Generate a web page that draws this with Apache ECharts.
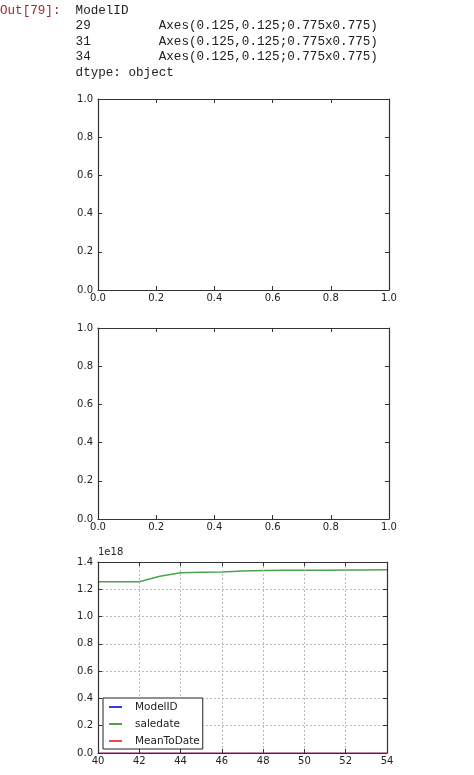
<!DOCTYPE html>
<html>

<head>
  <meta charset="utf-8">
  <title>ModelID axes</title>
  <script src="https://cdn.jsdelivr.net/npm/echarts@6/dist/echarts.min.js"></script>
  <style>
    body { margin: 0; background: #fff; }
    #out {
      position: absolute; left: 0; top: 4px; margin: 0;
      font-family: "Liberation Mono", "DejaVu Sans Mono", monospace;
      font-size: 12.6px; line-height: 15.4px; color: #222;
      white-space: pre; z-index: 2;
    }
    #out .prompt { color: #a52a2a; }
  </style>
</head>

<body>
  <pre id="out"><span class="prompt">Out[79]:</span>  ModelID
          29         Axes(0.125,0.125;0.775x0.775)
          31         Axes(0.125,0.125;0.775x0.775)
          34         Axes(0.125,0.125;0.775x0.775)
          dtype: object</pre>
  <div id="main" style="width: 474px;height:775px;"></div>
  <script type="text/javascript">
    var myChart = echarts.init(document.getElementById('main'));

    // last chart: x positions and the three series
    var xValues = [40, 41, 42, 43, 44, 45, 46, 47, 48, 49, 50, 51, 52, 53, 54];
    var modelID = [0, 0, 0, 0, 0, 0, 0, 0, 0, 0, 0, 0, 0, 0, 0];
    var saledate = [1.255e18, 1.255e18, 1.255e18, 1.295e18, 1.322e18, 1.324e18, 1.326e18, 1.334e18,
      1.338e18, 1.339e18, 1.340e18, 1.340e18, 1.341e18, 1.342e18, 1.344e18];
    var meanToDate = [0, 0, 0, 0, 0, 0, 0, 0, 0, 0, 0, 0, 0, 0, 0];
    var seriesNames = ['ModelID', 'saledate', 'MeanToDate'];
    var seriesColors = ['#3a3ae0', '#4aa44a', '#ee4a4a'];

    var grids = [
      { left: 98, top: 99, width: 291, height: 191 },
      { left: 98, top: 328, width: 291, height: 191 },
      { left: 98, top: 562, width: 289, height: 191 }
    ];

    var labelStyle = { fontFamily: 'DejaVu Sans', fontSize: 10, color: '#222' };
    var frameLine = { show: true, onZero: false, lineStyle: { color: '#333', width: 1.2 } };
    var tick = { show: true, inside: true, length: 4, lineStyle: { color: '#333' } };

    function oneDecimal(v) { return v.toFixed(1); }

    var xAxes = [], yAxes = [];
    grids.forEach(function (g, i) {
      var last = i === 2;
      var xr = last ? { min: 40, max: 54, interval: 2 } : { min: 0, max: 1, interval: 0.2 };
      var yr = last ? { min: 0, max: 1.4e18, interval: 0.2e18 } : { min: 0, max: 1, interval: 0.2 };
      var xLabelFmt = last ? function (v) { return String(v); } : oneDecimal;
      var yLabelFmt = last ? function (v) { return (v / 1e18).toFixed(1); } : oneDecimal;
      var grid = {
        type: 'value', gridIndex: i, min: xr.min, max: xr.max, interval: xr.interval,
        axisLine: frameLine, axisTick: tick, z: 5,
        splitLine: { show: last, lineStyle: { color: '#bbb', type: [2, 2] } }
      };
      xAxes.push(Object.assign({}, grid, {
        position: 'bottom',
        axisLabel: Object.assign({ margin: 3, formatter: xLabelFmt, showMinLabel: true, showMaxLabel: true }, labelStyle)
      }));
      xAxes.push(Object.assign({}, grid, {
        position: 'top', axisLabel: { show: false }, splitLine: { show: false }
      }));
      var ygrid = {
        type: 'value', gridIndex: i, min: yr.min, max: yr.max, interval: yr.interval,
        axisLine: frameLine, axisTick: tick, z: 5,
        splitLine: { show: last, lineStyle: { color: '#bbb', type: [2, 2] } }
      };
      var yMain = Object.assign({}, ygrid, {
        position: 'left',
        axisLabel: Object.assign({ margin: 5, formatter: yLabelFmt, showMinLabel: true, showMaxLabel: true }, labelStyle)
      });
      if (last) {
        yMain.name = '1e18';
        yMain.nameLocation = 'end';
        yMain.nameGap = 2;
        yMain.nameTextStyle = { fontFamily: 'DejaVu Sans', fontSize: 10, color: '#222', align: 'left' };
      }
      yAxes.push(yMain);
      yAxes.push(Object.assign({}, ygrid, {
        position: 'right', axisLabel: { show: false }, splitLine: { show: false }
      }));
    });

    var lineData = [modelID, saledate, meanToDate];
    var series = seriesNames.map(function (name, k) {
      return {
        name: name,
        type: 'line',
        xAxisIndex: 4,
        yAxisIndex: 4,
        showSymbol: false,
        symbol: 'none',
        z: 1,
        lineStyle: { color: seriesColors[k], width: k === 1 ? 1.5 : 0.8 },
        itemStyle: { color: seriesColors[k] },
        data: xValues.map(function (x, j) { return [x, lineData[k][j]]; })
      };
    });

    var option = {
      animation: false,
      grid: grids,
      xAxis: xAxes,
      yAxis: yAxes,
      legend: {
        orient: 'vertical',
        left: 103,
        top: 698,
        padding: [2, 3, 1, 6],
        itemGap: 3,
        itemWidth: 13,
        itemHeight: 2,
        icon: 'rect',
        backgroundColor: '#fff',
        borderColor: '#222',
        borderWidth: 1,
        borderRadius: 0,
        z: 10,
        textStyle: { fontFamily: 'DejaVu Sans', fontSize: 10.5, color: '#222', lineHeight: 14, padding: [0, 0, 0, 8] },
        data: seriesNames
      },
      series: series
    };

    myChart.setOption(option);
  </script>
</body>

</html>
